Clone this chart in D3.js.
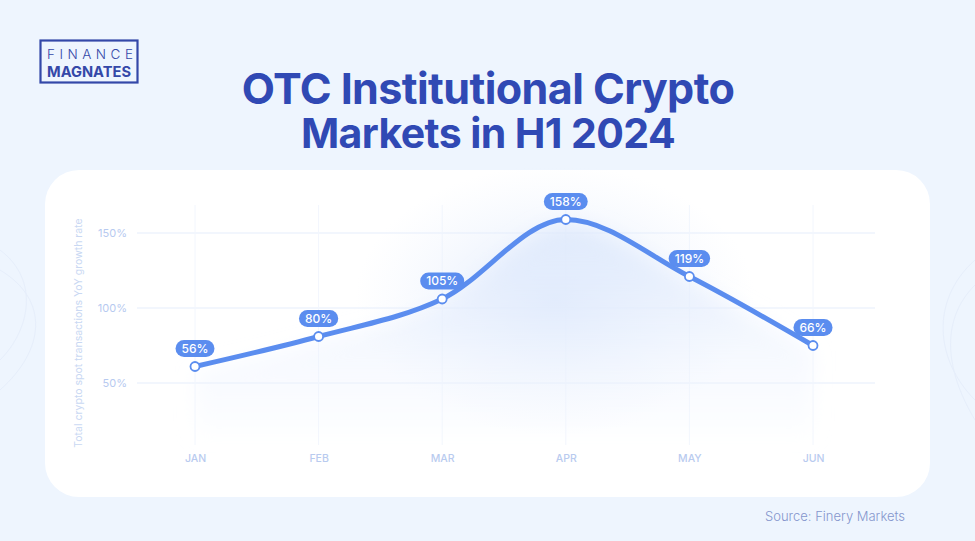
<!DOCTYPE html>
<html><head><meta charset="utf-8">
<script src="https://cdn.jsdelivr.net/npm/d3@7"></script>
<style>
html,body{margin:0;padding:0;background:#eef5fe;}
svg{display:block;}
</style></head>
<body>
<svg id="chart" width="975" height="541"></svg>
<script>
// ---- data ----
const months = ["JAN", "FEB", "MAR", "APR", "MAY", "JUN"];
// plotted positions (percent on the y axis)
const values = [61, 81, 106, 159, 121, 75];
// labels printed on the chart
const labels = ["56%", "80%", "105%", "158%", "119%", "66%"];
const yTicks = [50, 100, 150];
const titleLines = ["OTC Institutional Crypto", "Markets in H1 2024"];
const yTitle = "Total crypto spot transactions YoY growth rate";
const source = "Source: Finery Markets";

const svg = d3.select("#chart");
const W = 975, H = 541;
const defs = svg.append("defs");
const FONT = "Inter, 'Open Sans', sans-serif";

// background
svg.append("rect").attr("width", W).attr("height", H).attr("fill", "#eef5fe");
// subtle decorative curves on edges
const deco = svg.append("g").attr("fill", "none").attr("stroke", "#e6eefb").attr("stroke-width", 1);
deco.append("path").attr("d", "M0,250 C40,280 30,330 0,360");
deco.append("path").attr("d", "M0,270 C50,300 45,350 0,390");
deco.append("path").attr("d", "M975,260 C930,300 935,360 975,400");
deco.append("path").attr("d", "M975,285 C940,320 945,370 975,420");

// card
svg.append("rect").attr("x", 45).attr("y", 170).attr("width", 885).attr("height", 327)
  .attr("rx", 34).attr("fill", "#ffffff");

// logo
const logo = svg.append("g");
logo.append("rect").attr("x", 40.5).attr("y", 40.5).attr("width", 97).attr("height", 42)
  .attr("fill", "none").attr("stroke", "#3448a8").attr("stroke-width", 2.2);
const l1 = logo.append("text").attr("x", 47).attr("y", 59)
  .attr("font-family", FONT).attr("font-size", 13.5).attr("font-weight", 300)
  .attr("fill", "#3448a8").attr("textLength", 86).attr("lengthAdjust", "spacing").text("FINANCE");
const l2 = logo.append("text").attr("x", 47).attr("y", 76.5)
  .attr("font-family", FONT).attr("font-size", 14.5).attr("font-weight", 700)
  .attr("fill", "#3448a8").attr("textLength", 84).attr("lengthAdjust", "spacingAndGlyphs").text("MAGNATES");

// title
const titleWidths = [493, 375];
const titleY = [104, 148];
titleLines.forEach((t, i) => {
  const tx = svg.append("text").attr("x", 488).attr("y", titleY[i]).attr("text-anchor", "middle")
    .attr("font-family", FONT).attr("font-weight", 700)
    .attr("font-size", 44).attr("letter-spacing", -0.6).attr("fill", "#3049b4").text(t);
  const w = tx.node().getComputedTextLength();
  tx.attr("font-size", Math.min(46, 44 * titleWidths[i] / w));
});

// scales
const x = d3.scalePoint().domain(months).range([195, 813]);
const y = d3.scaleLinear().domain([50, 150]).range([383, 233]);
const plotTop = 205, plotBottom = 445;

// gridlines
const grid = svg.append("g");
grid.selectAll("line.h").data(yTicks).join("line")
  .attr("x1", 137).attr("x2", 875)
  .attr("y1", d => y(d)).attr("y2", d => y(d))
  .attr("stroke", "#eef3fc").attr("stroke-width", 1.5);
grid.selectAll("line.v").data(months).join("line")
  .attr("x1", d => x(d)).attr("x2", d => x(d))
  .attr("y1", plotTop).attr("y2", plotBottom)
  .attr("stroke", "#f2f6fd").attr("stroke-width", 1);

// y tick labels
const yAxis = d3.axisLeft(y).tickValues(yTicks).tickFormat(d => d + "%").tickSize(0).tickPadding(0);
const ya = svg.append("g").attr("transform", "translate(127,0)").call(yAxis);
ya.select(".domain").remove();
ya.selectAll("text").attr("font-family", FONT).attr("font-size", 11)
  .attr("fill", "#b7caf0");

// x axis labels
const xAxis = d3.axisBottom(x).tickSize(0).tickPadding(0);
const xa = svg.append("g").attr("transform", "translate(0,455)").call(xAxis);
xa.select(".domain").remove();
xa.selectAll("text").attr("font-family", FONT).attr("font-size", 10.5)
  .attr("font-weight", 500).attr("fill", "#b9cbef");

// y title
svg.append("text").attr("transform", "translate(82,333) rotate(-90)").attr("text-anchor", "middle")
  .attr("font-family", FONT).attr("font-size", 10.5)
  .attr("fill", "#c9d8f3").text(yTitle);

// glow
const rg = defs.append("radialGradient").attr("id", "glow");
rg.append("stop").attr("offset", "0%").attr("stop-color", "#dde8fc").attr("stop-opacity", 0.9);
rg.append("stop").attr("offset", "100%").attr("stop-color", "#eaf1fd").attr("stop-opacity", 0);
svg.append("ellipse").attr("cx", 555).attr("cy", 300).attr("rx", 200).attr("ry", 135).attr("fill", "url(#glow)");

const lg = defs.append("linearGradient").attr("id", "areaGrad").attr("x1", 0).attr("x2", 0).attr("y1", 0).attr("y2", 1);
lg.append("stop").attr("offset", "0%").attr("stop-color", "#dbe7fc").attr("stop-opacity", 0.8);
lg.append("stop").attr("offset", "100%").attr("stop-color", "#f3f7fe").attr("stop-opacity", 0.2);
defs.append("filter").attr("id", "blur").attr("x", "-20%").attr("y", "-20%").attr("width", "140%").attr("height", "140%")
  .append("feGaussianBlur").attr("stdDeviation", 10);

const data = months.map((m, i) => ({ m, v: values[i], l: labels[i] }));
const area = d3.area().x(d => x(d.m)).y0(plotBottom - 10).y1(d => y(d.v) + 6).curve(d3.curveMonotoneX);
svg.append("path").datum(data).attr("d", area).attr("fill", "url(#areaGrad)").attr("filter", "url(#blur)");

// line
const line = d3.line().x(d => x(d.m)).y(d => y(d.v)).curve(d3.curveMonotoneX);
svg.append("path").datum(data).attr("d", line).attr("fill", "none")
  .attr("stroke", "#5b8def").attr("stroke-width", 5).attr("stroke-linecap", "round");

// points
svg.selectAll("circle.pt").data(data).join("circle")
  .attr("cx", d => x(d.m)).attr("cy", d => y(d.v)).attr("r", 4.5)
  .attr("fill", "#ffffff").attr("stroke", "#5b8def").attr("stroke-width", 1.8);

// labels
const lab = svg.selectAll("g.lab").data(data).join("g")
  .attr("transform", d => `translate(${x(d.m)},${y(d.v) - 18})`);
lab.each(function (d) {
  const g = d3.select(this);
  const t = g.append("text").attr("text-anchor", "middle").attr("dy", "0.36em")
    .attr("font-family", FONT).attr("font-size", 12).attr("font-weight", 500)
    .attr("fill", "#ffffff").text(d.l);
  const w = t.node().getComputedTextLength() + 12;
  g.insert("rect", "text").attr("x", -w / 2).attr("y", -8.5).attr("width", w).attr("height", 17)
    .attr("rx", 8.5).attr("fill", "#5b8def");
});

// source
svg.append("text").attr("x", 905).attr("y", 521).attr("text-anchor", "end")
  .attr("font-family", FONT).attr("font-size", 13).attr("font-weight", 300)
  .attr("fill", "#8596cd").text(source);
</script>
</body></html>
